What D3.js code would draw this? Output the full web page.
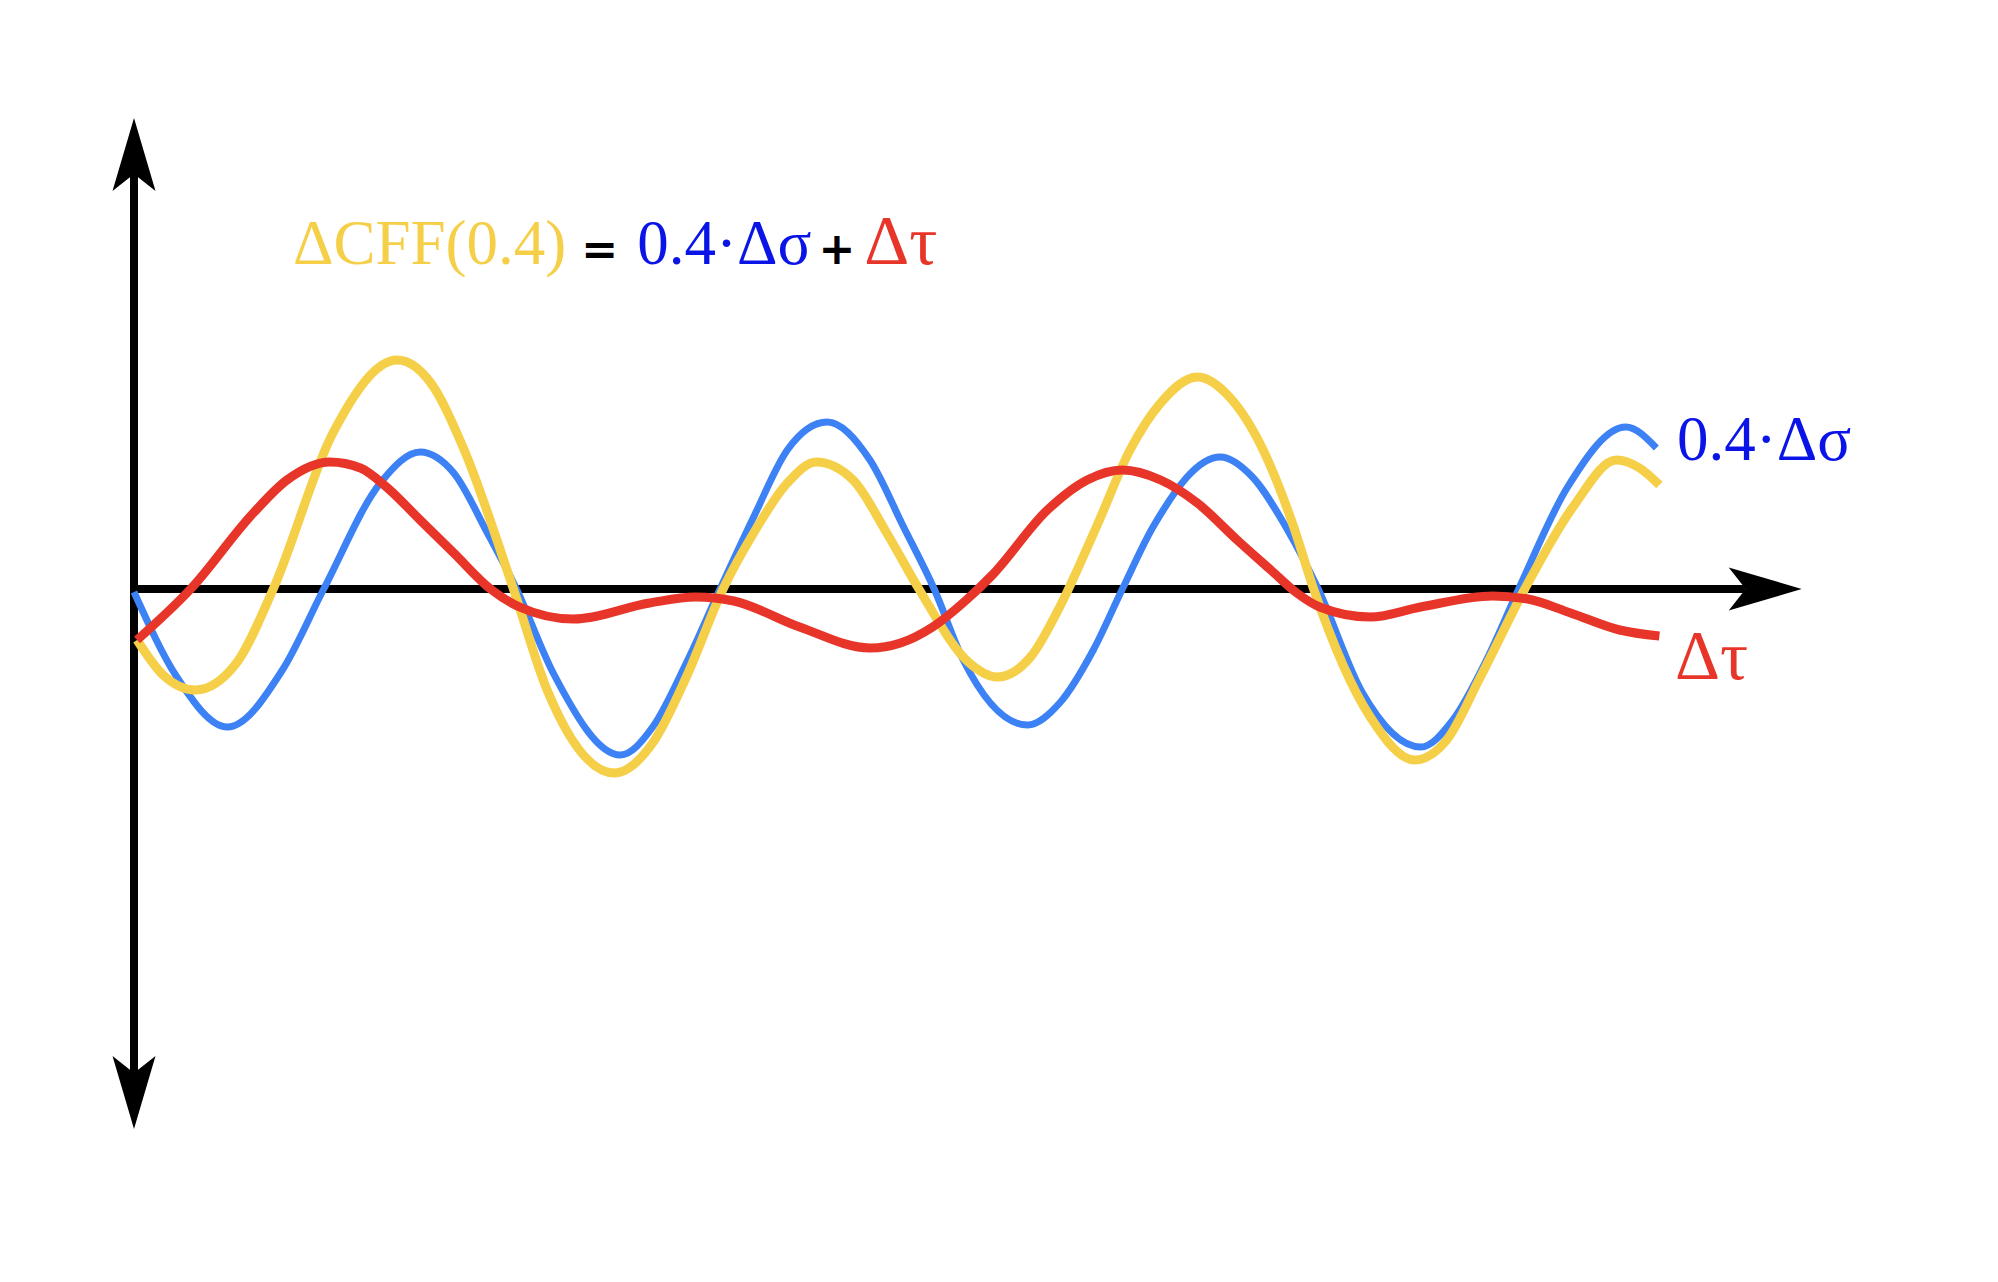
<!DOCTYPE html>
<html>
<head>
<meta charset="utf-8">
<script src="https://cdn.jsdelivr.net/npm/d3@7"></script>
<style>
  html, body { margin: 0; padding: 0; background: #fff; }
</style>
</head>
<body>
<svg id="chart" width="1998" height="1282"></svg>
<script>
// Delta CFF as the sum of the normal and shear stress changes

const WIDTH = 1998;
const HEIGHT = 1282;
const LABEL_FONTSIZE = 63;
const TAU_FONTSIZE = 70;

// 0.4 * delta sigma (x in 0..100, y in curve units)
const sigmaPoints = [
  [0, -0.03], [2.8, -0.88], [6.1, -1.38], [9.7, -0.81], [12.4, 0],
  [16.1, 1.06], [18.7, 1.37], [20.9, 1.16], [23.1, 0.56], [25.0, 0],
  [27.4, -0.84], [31.8, -1.66], [33.9, -1.38], [36.1, -0.74], [38.3, 0],
  [40.5, 0.72], [42.7, 1.39], [45.3, 1.67], [48.1, 1.29], [50.3, 0.62],
  [52.3, 0], [54.2, -0.71], [58.4, -1.36], [60.5, -1.14], [62.7, -0.61],
  [64.6, 0], [66.6, 0.62], [71.0, 1.32], [73.1, 1.12], [75.4, 0.59],
  [77.4, 0], [80.3, -1.04], [84.1, -1.58], [86.2, -1.31], [88.4, -0.71],
  [90.5, 0], [93.7, 1.02], [97.5, 1.62], [99.5, 1.41]
];

// delta tau
const tauPoints = [
  [0.2, -0.51], [3.7, 0], [7.8, 0.76], [10.0, 1.09], [12.8, 1.27],
  [14.8, 1.21], [16.5, 1.02], [18.7, 0.69], [20.9, 0.36], [23.3, 0],
  [25.2, -0.18], [28.7, -0.30], [33.7, -0.14], [36.7, -0.08], [39.2, -0.12],
  [43.5, -0.38], [48.1, -0.59], [50.1, -0.54], [52.2, -0.38], [54.4, -0.11],
  [56.1, 0.14], [59.7, 0.79], [62.3, 1.09], [64.6, 1.19], [67.1, 1.09],
  [69.5, 0.86], [72.1, 0.49], [74.3, 0.19], [76.0, -0.04], [77.5, -0.18],
  [80.8, -0.28], [84.1, -0.18], [88.8, -0.07], [91.1, -0.10], [93.9, -0.24],
  [97.1, -0.41], [99.7, -0.47]
];

// delta CFF(0.4)
const cffPoints = [
  [0.2, -0.51], [1.9, -0.86], [4.0, -1.01], [6.7, -0.74], [9.1, 0],
  [13.0, 1.56], [17.2, 2.29], [19.4, 2.06], [21.5, 1.42], [24.8, 0],
  [27.0, -1.01], [31.4, -1.84], [33.9, -1.54], [36.1, -0.88], [38.5, 0],
  [40.5, 0.56], [42.7, 1.06], [44.6, 1.27], [47.0, 1.09], [49.2, 0.56],
  [51.3, 0], [54.6, -0.74], [56.4, -0.88], [58.6, -0.68], [60.5, -0.18],
  [62.9, 0.62], [65.1, 1.39], [67.1, 1.86], [69.5, 2.12], [71.6, 1.92],
  [73.8, 1.39], [75.8, 0.62], [77.1, 0], [80.8, -1.28], [83.7, -1.71],
  [85.8, -1.51], [88.0, -0.88], [90.9, 0], [94.05, 0.82], [96.9, 1.29],
  [98.4, 1.21], [99.7, 1.04]
];

// axis extents, in data units
const xAxisEnd = 109;
const yAxisTop = 4.71;
const yAxisBottom = -5.4;

// title pieces: text, colour key, kind of type
const titleParts = [
  { text: "ΔCFF(0.4)", color: "cff", kind: "serif" },
  { text: "=", color: "axis", kind: "sans" },
  { text: "0.4·Δσ", color: "sigmaText", kind: "serif" },
  { text: "+", color: "axis", kind: "sans" },
  { text: "Δτ", color: "tau", kind: "tau" }
];
const titleGaps = [15, 19, 7, 9];

const COLORS = {
  sigma: "#3d82f5",
  tau: "#e8352a",
  cff: "#f6cf48",
  sigmaText: "#0a14e6",
  axis: "#000"
};

const x = d3.scaleLinear().domain([0, 100]).range([134, 1664]);
const y = d3.scaleLinear().domain([-1, 1]).range([689, 489]);

const svg = d3.select("svg#chart");
svg.append("rect")
  .attr("width", WIDTH).attr("height", HEIGHT)
  .style("fill", "#fff");

// arrow head: tip at (tx, ty), pointing in direction (dx, dy)
function arrowHead(g, tx, ty, dx, dy) {
  const len = 73, notch = 56, half = 21.5;
  const px = -dy, py = dx;
  const pts = [
    [tx, ty],
    [tx - dx * len + px * half, ty - dy * len + py * half],
    [tx - dx * notch, ty - dy * notch],
    [tx - dx * len - px * half, ty - dy * len - py * half]
  ];
  g.append("path")
    .attr("d", "M" + pts.map(p => p.join(",")).join("L") + "Z")
    .style("fill", COLORS.axis);
}

// axes
let axes = svg.append("g");
axes.append("line")
  .attr("x1", x(0)).attr("y1", y(yAxisTop) + 56)
  .attr("x2", x(0)).attr("y2", y(yAxisBottom) - 56)
  .style("stroke", COLORS.axis)
  .style("stroke-width", 8);
axes.append("line")
  .attr("x1", x(0) - 4).attr("y1", y(0))
  .attr("x2", x(xAxisEnd) - 56).attr("y2", y(0))
  .style("stroke", COLORS.axis)
  .style("stroke-width", 8);
arrowHead(axes, x(0), y(yAxisTop), 0, -1);
arrowHead(axes, x(0), y(yAxisBottom), 0, 1);
arrowHead(axes, x(xAxisEnd), y(0), 1, 0);

// curves (monotone in x, so uneven sampling does not kink them)
const line = d3.line()
  .x(d => x(d[0]))
  .y(d => y(d[1]))
  .curve(d3.curveMonotoneX);

let curves = svg.append("g");
curves.append("path")
  .attr("d", line(sigmaPoints))
  .style("fill", "none")
  .style("stroke", COLORS.sigma)
  .style("stroke-width", 7);
curves.append("path")
  .attr("d", line(cffPoints))
  .style("fill", "none")
  .style("stroke", COLORS.cff)
  .style("stroke-width", 9);
curves.append("path")
  .attr("d", line(tauPoints))
  .style("fill", "none")
  .style("stroke", COLORS.tau)
  .style("stroke-width", 9);

// labels
const serif = "'Liberation Serif', 'Times New Roman', serif";
const sans = "'DejaVu Sans', sans-serif";

// title, laid out piece by piece
let title = svg.append("g");
let cursor = 293;
titleParts.forEach((part, i) => {
  const isSans = part.kind == "sans";
  const size = isSans ? 44 : (part.kind == "tau" ? TAU_FONTSIZE : LABEL_FONTSIZE);
  const t = title.append("text")
    .attr("x", cursor)
    .attr("y", 264)
    .text(part.text)
    .style("fill", COLORS[part.color])
    .style("font-family", isSans ? sans : serif)
    .style("font-weight", isSans ? "bold" : "normal")
    .style("font-size", `${size}px`);
  cursor += t.node().getComputedTextLength() + (titleGaps[i] || 0);
});

svg.append("text")
  .attr("x", 1677)
  .attr("y", 460)
  .text("0.4·Δσ")
  .style("fill", COLORS.sigmaText)
  .style("font-family", serif)
  .style("font-size", `${LABEL_FONTSIZE}px`);

svg.append("text")
  .attr("x", 1675)
  .attr("y", 679)
  .text("Δτ")
  .style("fill", COLORS.tau)
  .style("font-family", serif)
  .style("font-size", `${TAU_FONTSIZE}px`);
</script>
</body>
</html>
